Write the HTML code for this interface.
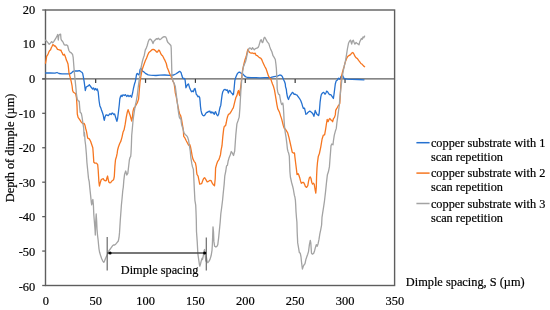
<!DOCTYPE html>
<html><head><meta charset="utf-8"><title>Depth of dimple chart</title>
<style>
html,body{margin:0;padding:0;background:#fff;}
body{width:550px;height:310px;overflow:hidden;}
svg{display:block;}
text{font-family:'Liberation Serif', 'Times New Roman', serif;fill:#000;stroke:#000;stroke-width:0.2px;}
</style></head><body>
<svg width="550" height="310" viewBox="0 0 550 310">
<rect x="0" y="0" width="550" height="310" fill="#fff"/>

<rect x="45.5" y="10.0" width="349.1" height="275.5" fill="none" stroke="#5e5e5e" stroke-width="1.4"/>
<line x1="42.2" y1="10.00" x2="45.8" y2="10.00" stroke="#5e5e5e" stroke-width="1.3"/>
<text transform="translate(35.2,13.53) scale(0.92,1)" font-size="13.5" text-anchor="end">20</text>
<line x1="42.2" y1="44.44" x2="45.8" y2="44.44" stroke="#5e5e5e" stroke-width="1.3"/>
<text transform="translate(35.2,48.19) scale(0.92,1)" font-size="13.5" text-anchor="end">10</text>
<line x1="42.2" y1="78.88" x2="45.8" y2="78.88" stroke="#5e5e5e" stroke-width="1.3"/>
<text transform="translate(35.2,82.85) scale(0.92,1)" font-size="13.5" text-anchor="end">0</text>
<line x1="42.2" y1="113.31" x2="45.8" y2="113.31" stroke="#5e5e5e" stroke-width="1.3"/>
<text transform="translate(35.2,117.51) scale(0.92,1)" font-size="13.5" text-anchor="end">-10</text>
<line x1="42.2" y1="147.75" x2="45.8" y2="147.75" stroke="#5e5e5e" stroke-width="1.3"/>
<text transform="translate(35.2,152.17) scale(0.92,1)" font-size="13.5" text-anchor="end">-20</text>
<line x1="42.2" y1="182.19" x2="45.8" y2="182.19" stroke="#5e5e5e" stroke-width="1.3"/>
<text transform="translate(35.2,186.83) scale(0.92,1)" font-size="13.5" text-anchor="end">-30</text>
<line x1="42.2" y1="216.62" x2="45.8" y2="216.62" stroke="#5e5e5e" stroke-width="1.3"/>
<text transform="translate(35.2,221.49) scale(0.92,1)" font-size="13.5" text-anchor="end">-40</text>
<line x1="42.2" y1="251.06" x2="45.8" y2="251.06" stroke="#5e5e5e" stroke-width="1.3"/>
<text transform="translate(35.2,256.16) scale(0.92,1)" font-size="13.5" text-anchor="end">-50</text>
<line x1="42.2" y1="285.50" x2="45.8" y2="285.50" stroke="#5e5e5e" stroke-width="1.3"/>
<text transform="translate(35.2,290.82) scale(0.92,1)" font-size="13.5" text-anchor="end">-60</text>
<line x1="42.2" y1="78.88" x2="394.9" y2="78.88" stroke="#5e5e5e" stroke-width="1.4"/>
<text transform="translate(45.80,304.7) scale(0.92,1)" font-size="13.5" text-anchor="middle">0</text>
<line x1="95.67" y1="78.88" x2="95.67" y2="82.88" stroke="#3a3a3a" stroke-width="1.2"/>
<text transform="translate(95.67,304.7) scale(0.92,1)" font-size="13.5" text-anchor="middle">50</text>
<line x1="145.54" y1="78.88" x2="145.54" y2="82.88" stroke="#3a3a3a" stroke-width="1.2"/>
<text transform="translate(145.54,304.7) scale(0.92,1)" font-size="13.5" text-anchor="middle">100</text>
<line x1="195.41" y1="78.88" x2="195.41" y2="82.88" stroke="#3a3a3a" stroke-width="1.2"/>
<text transform="translate(195.41,304.7) scale(0.92,1)" font-size="13.5" text-anchor="middle">150</text>
<line x1="245.29" y1="78.88" x2="245.29" y2="82.88" stroke="#3a3a3a" stroke-width="1.2"/>
<text transform="translate(245.29,304.7) scale(0.92,1)" font-size="13.5" text-anchor="middle">200</text>
<line x1="295.16" y1="78.88" x2="295.16" y2="82.88" stroke="#3a3a3a" stroke-width="1.2"/>
<text transform="translate(295.16,304.7) scale(0.92,1)" font-size="13.5" text-anchor="middle">250</text>
<line x1="345.03" y1="78.88" x2="345.03" y2="82.88" stroke="#3a3a3a" stroke-width="1.2"/>
<text transform="translate(345.03,304.7) scale(0.92,1)" font-size="13.5" text-anchor="middle">300</text>
<text transform="translate(394.90,304.7) scale(0.92,1)" font-size="13.5" text-anchor="middle">350</text>
<polyline fill="none" stroke="#2571d0" stroke-width="1.3" stroke-linejoin="round" stroke-linecap="round" points="45.7,73.0 50.0,72.8 55.0,73.2 57.0,72.5 59.0,73.5 62.0,73.8 66.5,73.9 69.7,73.9 71.3,73.1 72.9,71.5 75.3,71.0 77.7,71.0 79.4,70.6 80.6,71.5 81.8,72.3 82.6,73.1 83.4,77.1 84.2,81.9 84.8,86.5 85.3,90.5 86.2,87.0 87.8,86.2 89.4,84.8 91.0,87.0 92.6,89.0 93.6,88.0 94.5,90.0 95.4,88.5 96.5,90.0 97.3,89.0 98.2,92.0 99.1,101.0 99.9,106.0 100.7,107.6 101.5,110.0 102.4,112.5 103.2,115.0 103.8,118.5 104.3,120.3 105.0,117.0 105.8,115.2 106.7,114.8 107.7,115.5 108.6,115.5 109.5,114.0 110.4,113.8 111.2,114.6 112.1,113.0 112.9,113.4 113.8,114.6 114.6,114.0 115.4,116.5 116.3,119.5 116.9,121.3 117.6,118.5 118.5,111.5 119.3,104.5 119.8,99.0 120.5,96.5 121.2,95.3 122.1,96.5 123.0,94.8 124.3,95.5 125.4,94.6 126.7,96.5 127.9,95.2 129.0,96.5 130.3,95.5 131.6,97.2 132.7,92.5 133.5,88.2 134.5,84.0 135.4,81.2 136.6,74.1 137.5,73.4 138.5,74.8 139.4,74.1 140.0,69.8 140.8,68.4 141.8,69.8 142.5,71.2 143.9,71.9 145.4,73.4 146.8,74.1 148.2,74.8 150.3,75.2 156.0,75.5 160.0,75.1 164.8,75.0 169.7,75.3 173.7,75.0 176.1,73.7 178.1,72.4 179.7,71.3 181.0,72.4 181.8,75.3 182.6,77.7 183.4,78.5 184.2,78.5 185.0,79.4 185.5,83.4 185.9,87.8 186.8,85.9 187.6,84.6 188.5,83.9 189.4,87.2 190.5,89.7 191.5,91.7 192.4,91.0 193.3,91.7 194.3,89.1 195.0,88.5 195.6,91.0 196.3,94.3 196.9,94.9 197.9,96.8 198.8,96.2 199.7,97.5 200.1,101.4 200.5,106.5 201.0,110.4 201.8,113.6 202.7,115.3 203.6,115.8 204.6,115.3 205.7,113.6 206.6,112.3 207.5,112.3 208.3,111.4 209.2,111.9 209.8,111.0 210.5,112.3 211.1,113.0 211.7,111.9 212.4,112.7 213.0,112.3 213.7,113.6 214.3,114.3 215.0,112.3 215.6,111.7 216.3,113.6 216.9,114.9 217.8,115.8 218.6,114.3 219.1,111.7 219.9,107.8 220.8,105.2 221.4,100.1 222.1,94.9 222.7,92.0 223.2,91.0 224.1,89.7 225.2,89.4 226.2,90.4 227.1,89.7 227.7,91.0 228.4,93.0 229.0,91.0 229.7,90.4 230.6,91.7 231.4,93.0 232.3,93.6 232.9,94.9 233.5,94.3 234.2,87.8 234.8,80.7 235.5,78.1 236.5,75.5 237.4,73.6 238.7,72.3 239.6,72.1 240.6,73.0 241.9,73.4 243.2,74.3 244.5,75.9 245.8,76.8 247.7,77.5 251.0,77.7 256.0,77.7 260.0,77.8 264.5,77.7 268.5,77.7 270.9,77.3 274.1,76.6 277.4,76.1 279.8,75.0 281.4,75.3 282.5,76.9 283.5,79.4 284.6,81.8 285.3,84.0 285.5,86.6 286.3,89.2 286.8,93.7 287.6,97.5 288.5,99.5 289.4,96.9 290.5,95.0 291.5,93.7 292.4,92.4 293.3,93.0 294.1,94.3 295.0,94.1 295.9,94.6 296.9,95.0 297.9,96.3 298.8,97.5 299.7,98.8 300.8,100.8 301.8,103.4 302.7,106.6 303.4,108.5 304.0,107.9 304.6,108.5 305.3,111.7 305.9,114.3 307.0,113.7 307.9,112.4 308.8,111.7 309.8,111.1 310.8,111.7 311.7,112.6 312.6,113.4 313.4,115.0 313.9,116.3 314.7,113.0 315.2,110.5 316.0,112.4 316.9,114.3 317.8,115.0 318.6,115.6 319.1,113.7 319.6,108.5 320.1,102.1 320.8,96.9 321.4,94.3 322.5,93.0 323.4,92.4 324.3,93.0 325.0,94.3 325.9,93.0 326.6,91.1 327.6,91.7 328.4,93.2 329.5,94.7 330.8,94.7 332.2,96.6 333.4,98.5 334.1,93.7 335.3,84.0 336.1,81.1 337.2,80.2 338.6,78.2 339.9,79.2 341.1,76.3 342.5,75.3 343.4,77.3 344.4,78.6 347.3,79.2 352.0,79.4 358.0,79.5 364.0,79.8"/>
<polyline fill="none" stroke="#f67620" stroke-width="1.3" stroke-linejoin="round" stroke-linecap="round" points="45.5,63.2 46.2,59.3 46.7,56.2 47.5,55.1 48.3,53.5 49.0,51.6 49.8,50.4 50.6,49.7 51.3,47.7 52.1,46.2 52.9,44.6 53.7,45.0 54.4,46.2 55.2,45.8 56.0,47.0 56.8,48.1 57.5,49.3 58.7,49.7 59.9,50.1 60.6,50.4 61.0,50.1 61.4,51.6 62.2,52.8 62.9,54.7 63.7,55.1 64.3,54.3 64.9,55.5 65.7,57.8 66.4,60.1 67.2,61.7 68.0,64.0 68.5,68.0 68.9,72.3 69.7,75.5 70.5,78.7 71.3,81.9 72.1,86.0 72.6,90.5 73.4,92.3 74.6,93.0 75.6,93.6 76.5,97.9 77.0,106.0 77.3,114.0 78.1,117.3 79.7,119.7 81.3,122.1 82.9,123.7 84.1,123.4 85.0,125.3 85.7,128.5 86.6,131.8 87.2,135.5 87.7,138.1 89.3,138.9 90.6,141.3 91.7,144.5 92.8,147.7 93.3,154.2 93.8,162.3 94.9,163.1 96.5,163.1 97.7,164.7 98.2,170.3 98.6,176.8 98.9,182.0 99.4,186.0 100.3,182.5 101.2,179.8 102.2,179.0 103.2,178.7 104.1,180.1 105.1,180.8 106.3,180.5 106.9,178.0 107.6,176.0 108.1,178.8 108.8,182.0 109.7,182.8 110.7,182.6 111.8,181.0 112.9,180.4 113.7,179.4 114.3,176.5 114.9,166.1 115.5,159.7 116.5,156.5 117.2,153.2 117.6,150.0 118.5,146.8 119.7,143.5 120.9,141.1 122.0,137.1 123.0,132.3 124.1,129.8 125.2,124.2 126.2,117.7 127.3,112.1 128.1,109.7 128.9,112.1 130.1,115.3 131.0,118.5 131.7,121.0 132.3,117.7 133.0,111.3 133.8,108.1 134.9,107.3 136.2,104.8 137.5,102.4 138.6,99.0 139.4,89.0 140.0,82.0 141.0,75.5 142.2,69.5 143.4,66.0 144.3,63.5 145.4,60.5 146.6,58.0 147.7,55.1 148.9,52.4 150.4,51.2 152.0,49.7 153.2,49.3 154.3,49.7 155.5,50.8 156.6,52.0 157.6,52.0 158.6,50.1 159.3,50.4 160.1,52.0 160.9,53.9 161.7,55.1 162.4,55.5 163.2,57.0 164.0,58.6 164.8,60.1 165.5,61.7 166.3,63.5 167.2,67.5 168.4,70.3 169.4,72.9 170.0,74.5 171.0,76.1 171.6,77.7 172.3,79.4 173.2,81.8 174.1,83.5 174.8,88.1 175.3,92.9 176.1,96.0 177.0,101.0 177.9,106.0 178.8,110.5 179.6,113.9 180.6,115.5 181.5,119.0 182.5,125.0 183.3,129.8 183.7,136.3 184.9,137.9 186.0,140.3 187.3,142.7 188.6,145.2 189.7,144.4 190.5,146.8 191.3,150.8 192.1,155.6 192.9,158.9 194.1,161.3 195.4,162.9 196.2,166.9 196.6,171.8 197.0,174.5 198.1,176.1 198.9,180.1 199.7,184.1 200.8,183.8 201.8,183.3 202.9,180.1 203.8,178.2 204.6,177.7 205.9,179.7 207.2,181.9 208.5,181.3 210.1,180.3 211.1,180.6 212.1,182.9 213.4,184.8 214.5,185.8 215.2,179.0 215.6,168.0 216.8,163.7 217.7,161.3 218.9,159.7 219.7,157.3 220.5,154.7 221.1,150.2 222.0,145.7 222.8,136.6 223.7,128.9 224.3,126.3 225.6,125.7 226.3,122.5 226.9,119.2 227.6,116.5 228.5,114.3 229.8,113.7 231.1,111.7 232.4,109.2 233.3,107.9 234.1,104.6 235.0,100.8 235.9,97.5 236.9,95.6 237.9,91.7 238.5,90.5 239.2,94.3 239.7,95.6 240.1,90.5 240.8,86.6 241.4,81.0 241.9,75.5 242.6,70.0 243.5,66.0 244.3,62.5 245.1,59.5 245.8,57.5 246.5,55.2 247.2,51.8 248.0,49.2 248.6,50.8 249.6,52.5 251.1,53.2 252.5,53.0 254.0,53.7 255.2,53.2 256.2,55.4 257.4,55.7 258.3,56.6 259.3,57.6 260.7,58.1 261.7,59.5 262.5,61.6 263.6,64.0 264.8,66.5 266.1,68.9 266.9,71.3 267.7,73.7 268.5,76.1 269.6,77.7 270.9,79.4 271.7,81.8 272.5,84.0 273.6,86.8 274.5,90.1 275.3,94.9 276.1,99.7 276.9,104.6 277.7,108.6 278.5,110.2 279.6,112.6 280.6,115.9 281.7,119.1 282.5,122.3 283.3,125.5 284.1,128.0 285.4,129.3 286.3,130.5 287.7,132.8 289.0,137.7 290.1,142.5 291.2,147.4 292.2,152.2 293.3,153.0 294.5,153.0 294.9,157.0 295.7,163.5 296.5,169.9 297.0,174.5 298.1,173.6 298.9,175.3 299.7,177.7 300.5,180.9 301.3,183.3 302.5,182.5 303.7,182.5 304.5,184.1 305.4,186.5 306.6,187.4 307.8,185.7 308.6,180.9 309.4,177.7 310.2,176.9 311.0,178.5 311.8,182.5 312.6,184.1 313.4,183.3 314.2,184.1 315.0,189.0 315.8,193.0 316.3,187.4 316.6,176.1 317.0,168.0 317.5,162.3 318.3,156.4 319.4,153.5 320.8,146.8 322.1,139.0 323.3,135.2 324.6,134.8 325.6,129.4 326.4,124.0 327.2,119.4 328.1,121.7 329.0,119.4 329.9,118.5 330.8,119.9 331.7,120.3 332.6,121.7 333.5,118.5 334.4,117.6 335.3,114.9 335.7,110.4 336.6,108.6 337.5,107.3 338.4,105.5 339.3,104.6 339.8,103.2 340.3,95.0 340.8,86.0 341.5,76.3 342.3,72.8 343.2,69.5 344.1,66.7 345.3,61.9 346.9,57.8 348.0,56.2 349.3,55.4 350.6,54.6 351.7,53.0 352.8,52.5 353.8,53.8 354.9,56.2 356.1,57.8 357.4,58.6 358.6,60.3 359.8,61.9 360.9,63.5 362.2,64.3 363.5,65.9 364.6,66.7"/>
<polyline fill="none" stroke="#a3a3a3" stroke-width="1.3" stroke-linejoin="round" stroke-linecap="round" points="45.7,40.2 47.5,42.2 49.2,44.3 50.4,43.1 51.6,41.6 52.7,42.8 53.9,41.3 55.6,38.7 57.1,35.8 57.7,34.5 58.3,40.0 58.8,35.5 59.7,34.3 60.6,34.1 61.0,39.0 61.5,40.2 62.4,41.2 63.2,42.5 64.1,44.6 65.2,45.2 66.4,44.8 67.6,45.5 68.9,50.5 70.0,52.1 71.3,52.9 72.6,54.5 73.2,57.7 73.7,64.2 74.2,70.6 74.8,77.1 75.3,81.9 75.8,86.8 76.1,90.0 76.3,93.0 77.3,99.5 78.6,101.1 79.2,101.1 79.7,107.6 80.2,112.4 81.3,113.2 82.1,117.3 82.8,122.4 83.3,125.8 83.7,128.1 83.9,132.6 84.1,136.0 84.5,132.5 84.8,137.1 85.0,140.5 85.6,145.0 86.4,154.2 86.9,162.3 87.7,170.3 88.5,178.4 89.2,181.5 89.8,187.9 90.5,194.4 91.3,202.4 91.7,204.8 92.4,200.8 92.9,199.5 93.4,205.0 93.8,214.5 94.5,223.3 95.0,229.1 95.3,235.0 95.7,222.0 96.2,214.0 96.7,221.8 97.0,229.1 97.5,235.0 98.2,240.7 98.6,245.0 99.0,249.0 99.6,252.3 100.6,255.5 101.7,258.7 102.8,261.1 103.8,262.3 104.5,261.1 105.4,258.7 106.5,256.3 107.7,253.9 109.0,250.6 110.3,249.0 111.4,247.4 112.5,245.8 113.5,245.0 114.6,245.0 115.7,244.2 117.0,242.6 118.3,241.0 119.0,237.7 119.5,232.9 119.9,226.5 120.3,220.0 120.9,212.0 121.4,205.0 122.1,198.0 122.8,190.3 123.3,187.1 123.8,180.6 124.6,174.2 125.7,171.0 126.8,175.0 127.8,173.4 128.5,167.7 129.4,159.7 130.1,157.3 130.7,156.5 131.0,153.2 131.4,145.0 131.7,135.5 132.3,129.0 133.0,121.0 133.6,116.1 134.6,109.7 135.4,104.8 136.2,101.6 137.3,95.3 138.2,87.3 139.2,80.0 140.2,74.0 141.0,68.0 141.8,64.0 142.6,60.5 143.3,58.1 144.3,55.2 145.3,49.8 146.2,48.4 147.2,45.5 148.2,41.8 149.1,39.8 150.1,38.9 151.1,39.7 152.0,41.1 153.0,43.6 154.0,41.1 154.9,40.2 156.4,38.7 157.4,39.2 158.3,38.2 159.8,39.7 161.2,38.7 162.7,37.3 164.1,36.6 165.6,36.8 166.6,38.7 167.0,40.6 168.0,42.6 169.5,44.0 170.9,45.5 171.2,48.0 171.4,55.0 171.6,63.0 171.9,75.0 172.3,78.5 172.9,81.0 174.1,83.2 175.3,86.5 176.1,92.9 176.9,99.4 177.7,105.8 178.5,112.3 179.3,117.1 180.1,118.7 180.9,117.9 181.2,121.9 181.7,125.0 182.8,128.3 184.1,133.1 185.4,134.7 186.5,135.5 187.6,137.1 188.6,140.3 189.2,144.4 190.2,150.8 190.8,157.3 191.8,163.7 192.5,166.9 193.4,169.4 193.8,177.7 194.4,190.6 194.9,200.3 195.7,205.1 196.0,211.5 196.3,220.0 196.5,231.7 197.2,241.4 197.9,254.2 198.7,259.6 199.4,264.3 199.8,266.2 200.6,263.5 201.4,260.4 202.1,258.1 202.5,259.6 203.3,255.8 204.0,251.0 204.6,249.5 205.3,256.0 205.8,261.0 206.4,257.0 207.1,261.5 207.8,262.7 208.7,261.6 209.9,259.6 211.1,255.8 212.0,250.3 212.4,244.0 213.0,226.8 213.5,231.7 213.9,241.4 214.6,246.2 215.9,247.0 217.0,246.2 217.8,244.6 218.6,238.1 219.4,230.1 220.2,222.0 220.8,214.0 221.6,208.0 222.6,200.0 223.2,193.5 224.2,183.9 224.8,175.8 225.8,171.0 226.5,166.1 227.4,165.3 228.1,161.3 229.0,158.1 230.2,155.0 231.3,151.5 232.4,153.2 233.5,155.5 234.7,151.0 235.8,135.1 236.9,123.9 238.1,120.5 239.2,117.1 239.9,108.1 240.4,99.0 240.8,92.0 241.4,84.0 242.0,77.0 242.7,71.0 243.5,66.5 244.5,64.0 245.4,62.0 246.2,59.0 247.2,54.2 248.2,50.3 249.1,48.4 250.1,47.9 251.1,48.9 251.7,49.4 252.5,47.6 253.5,48.9 254.3,49.8 255.4,48.6 256.9,48.2 258.1,47.4 258.8,46.0 259.5,43.6 260.5,40.2 261.2,39.7 262.0,42.1 262.7,42.6 263.4,40.2 264.1,37.7 264.8,37.3 265.6,38.7 266.6,40.6 267.5,42.1 268.8,43.6 269.8,46.9 270.7,49.4 271.9,51.8 273.0,55.7 274.0,57.1 275.3,59.5 275.9,64.0 276.4,68.9 276.7,75.3 277.0,81.8 277.2,88.5 277.7,91.7 278.5,94.1 279.6,94.9 280.1,98.1 280.9,102.2 281.7,104.6 282.8,103.0 283.3,106.2 283.8,114.3 284.1,120.7 284.6,127.2 285.3,132.8 286.1,137.7 286.9,144.1 287.4,149.0 288.0,151.4 288.6,153.0 289.3,156.2 289.6,163.5 289.9,171.5 290.4,177.0 291.6,182.5 292.5,185.7 293.3,189.0 294.4,195.4 294.9,197.0 295.4,200.3 295.7,205.1 296.0,211.5 296.5,218.0 296.9,222.0 297.2,232.4 297.7,242.9 298.6,248.1 299.3,252.4 300.3,253.3 301.0,256.8 301.7,263.7 302.4,269.0 303.3,266.3 304.2,264.6 305.0,263.7 305.9,259.4 306.8,256.8 307.7,254.2 308.5,251.6 309.4,244.6 310.3,240.3 310.8,242.9 311.5,253.3 312.5,254.2 313.7,253.3 314.6,250.7 315.5,247.2 316.3,244.6 317.2,246.3 318.1,243.7 319.0,239.4 319.8,234.2 320.7,229.8 321.6,225.0 322.0,217.3 322.6,213.4 323.5,207.6 324.5,200.8 325.5,192.1 326.5,182.4 327.4,174.7 328.4,171.8 329.4,166.9 329.9,160.3 330.5,152.6 331.0,145.8 331.8,143.9 333.0,144.8 333.4,141.0 334.3,135.2 335.3,131.3 336.3,128.4 336.8,123.5 337.6,117.7 338.4,111.9 339.2,106.0 340.0,97.0 340.7,90.0 341.5,83.0 342.2,77.0 343.2,71.5 344.1,66.7 345.3,61.9 346.4,55.4 347.4,49.0 348.5,43.3 349.6,40.9 350.6,40.1 351.2,42.5 351.7,44.1 352.5,40.9 353.3,40.1 354.1,42.5 354.9,44.1 356.1,42.5 357.0,43.3 358.2,44.1 359.0,44.9 359.8,41.7 360.6,40.1 361.4,38.5 362.2,39.3 363.0,36.9 363.8,37.7 364.6,36.1"/>
<line x1="107.2" y1="237" x2="107.2" y2="270.5" stroke="#6a6a6a" stroke-width="1.2"/>
<line x1="206.3" y1="237.4" x2="206.3" y2="270.6" stroke="#6a6a6a" stroke-width="1.2"/>
<line x1="107.2" y1="253" x2="206.3" y2="253" stroke="#4a4a4a" stroke-width="1.3"/>
<circle cx="110.1" cy="253" r="1.5" fill="#000"/>
<circle cx="204.6" cy="253" r="1.5" fill="#000"/>
<text transform="translate(120.8,273.7) scale(0.925,1)" font-size="13.3">Dimple spacing</text>
<text x="405.8" y="285.7" font-size="12.35">Dimple spacing, S (µm)</text>
<text transform="translate(14.3,147.9) rotate(-90)" font-size="12.3" text-anchor="middle">Depth of dimple (µm)</text>
<line x1="416.4" y1="142.7" x2="429.6" y2="142.7" stroke="#2571d0" stroke-width="1.5"/>
<text x="430.9" y="146.9" font-size="12.3">copper substrate with 1</text>
<text x="430.9" y="160.8" font-size="12.3">scan repetition</text>
<line x1="416.4" y1="173.1" x2="429.6" y2="173.1" stroke="#f67620" stroke-width="1.5"/>
<text x="430.9" y="177.3" font-size="12.3">copper substrate with 2</text>
<text x="430.9" y="191.2" font-size="12.3">scan repetition</text>
<line x1="416.4" y1="203.5" x2="429.6" y2="203.5" stroke="#a3a3a3" stroke-width="1.5"/>
<text x="430.9" y="207.7" font-size="12.3">copper substrate with 3</text>
<text x="430.9" y="221.6" font-size="12.3">scan repetition</text>
</svg>
</body></html>
